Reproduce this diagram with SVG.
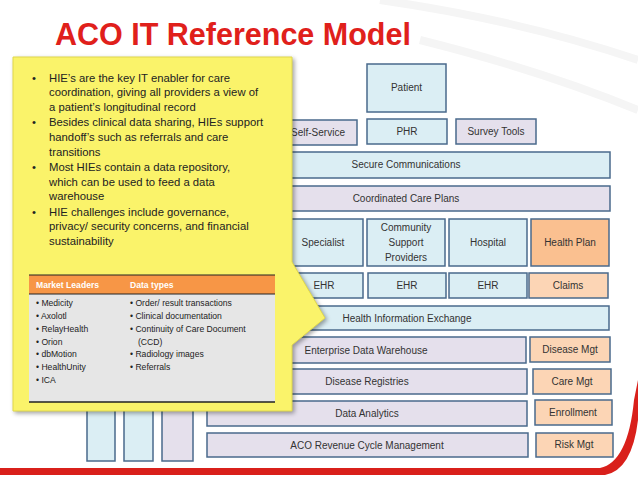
<svg xmlns="http://www.w3.org/2000/svg" width="638" height="479" viewBox="0 0 638 479">
<style>
.b{stroke:#4A6A8C;stroke-width:1.5}
.lb{fill:#DBEEF4}.lv{fill:#E5E0EC}.or{fill:#FAC090}.pe{fill:#FCD5B5}
.t{font-family:"Liberation Sans",Arial,sans-serif;font-size:10px;fill:#333;text-anchor:middle}
.c{font-family:"Liberation Sans",Arial,sans-serif;font-size:11.3px;fill:#222}
.s{font-family:"Liberation Sans",Arial,sans-serif;font-size:8.6px;fill:#222}
.h{font-family:"Liberation Sans",Arial,sans-serif;font-size:8.6px;fill:#fff;font-weight:bold}
</style>
<rect width="638" height="479" fill="#fff"/>
<path d="M380 0 Q520 20 638 60 M420 40 Q540 70 638 110" stroke="#F5F5F5" stroke-width="8" fill="none"/>
<text x="55" y="45" font-family="Liberation Sans,Arial,sans-serif" font-size="30.5" font-weight="bold" fill="#E0201B">ACO IT Reference Model</text>
<path d="M0 468 L600 468 Q628 462 634 400 L638 380 L638 420 Q632 470 605 475 L0 475 Z" fill="#D9201B"/>
<g id="columns">
<rect class="b lb" x="87" y="220" width="28" height="241"/>
<rect class="b lb" x="124" y="220" width="29" height="241"/>
<rect class="b lv" x="162" y="220" width="31" height="241"/>
</g>
<g id="patient"><rect class="b lb" x="367" y="64" width="79" height="48"/><text class="t" x="406.5" y="91">Patient</text></g>
<g id="selfservice"><rect class="b lv" x="207" y="120" width="150" height="25"/><text class="t" x="318" y="136">Self-Service</text></g>
<g id="phr"><rect class="b lb" x="367" y="119" width="80" height="25"/><text class="t" x="407" y="135">PHR</text></g>
<g id="survey"><rect class="b lv" x="456" y="119" width="80" height="25"/><text class="t" x="496" y="135">Survey Tools</text></g>
<g id="securecomm"><rect class="b lb" x="207" y="152" width="403" height="26"/><text class="t" x="406" y="168">Secure Communications</text></g>
<g id="careplans"><rect class="b lv" x="207" y="186" width="403" height="25"/><text class="t" x="406" y="202">Coordinated Care Plans</text></g>
<g id="specialist"><rect class="b lb" x="207" y="219" width="156" height="47"/><text class="t" x="323" y="246">Specialist</text></g>
<g id="community"><rect class="b lb" x="367" y="219" width="78" height="47"/><text class="t" x="406" y="231">Community</text><text class="t" x="406" y="246">Support</text><text class="t" x="406" y="261">Providers</text></g>
<g id="hospital"><rect class="b lb" x="449" y="219" width="78" height="47"/><text class="t" x="488" y="246">Hospital</text></g>
<g id="healthplan"><rect class="b or" x="531" y="219" width="78" height="47"/><text class="t" x="570" y="246">Health Plan</text></g>
<g id="ehr1"><rect class="b lb" x="207" y="273" width="156" height="25"/><text class="t" x="324" y="289">EHR</text></g>
<g id="ehr2"><rect class="b lb" x="368" y="273" width="78" height="25"/><text class="t" x="407" y="289">EHR</text></g>
<g id="ehr3"><rect class="b lb" x="449" y="273" width="78" height="25"/><text class="t" x="488" y="289">EHR</text></g>
<g id="claims"><rect class="b pe" x="529" y="273" width="79" height="25"/><text class="t" x="568" y="289">Claims</text></g>
<g id="hie"><rect class="b lb" x="207" y="306" width="402" height="24"/><text class="t" x="407" y="322">Health Information Exchange</text></g>
<g id="edw"><rect class="b lv" x="207" y="337" width="319" height="26"/><text class="t" x="366" y="354">Enterprise Data Warehouse</text></g>
<g id="diseasemgt"><rect class="b pe" x="530" y="337" width="80" height="25"/><text class="t" x="570" y="353">Disease Mgt</text></g>
<g id="registries"><rect class="b lv" x="207" y="369" width="320" height="25"/><text class="t" x="367" y="385">Disease Registries</text></g>
<g id="caremgt"><rect class="b pe" x="533" y="369" width="78" height="25"/><text class="t" x="572" y="385">Care Mgt</text></g>
<g id="analytics"><rect class="b lv" x="207" y="401" width="320" height="25"/><text class="t" x="367" y="417">Data Analytics</text></g>
<g id="enrollment"><rect class="b pe" x="535" y="400" width="77" height="25"/><text class="t" x="573" y="416">Enrollment</text></g>
<g id="revenue"><rect class="b lv" x="207" y="433" width="321" height="24"/><text class="t" x="367" y="449">ACO Revenue Cycle Management</text></g>
<g id="riskmgt"><rect class="b pe" x="536" y="433" width="77" height="24"/><text class="t" x="574" y="448">Risk Mgt</text></g>
<g id="connectors"></g>
<g id="callout">
<path d="M13 57 H292 V262 L325 318 L292 345 V411 H13 Z" fill="#FAF36A" stroke="#E0D84A" stroke-width="1" style="filter:drop-shadow(2px 2px 2px rgba(0,0,0,0.35))"/>
<g class="c">
<text x="32" y="82">•</text><text x="49" y="82">HIE’s are the key IT enabler for care</text>
<text x="49" y="96">coordination, giving all providers a view of</text>
<text x="49" y="111">a patient’s longitudinal record</text>
<text x="32" y="126">•</text><text x="49" y="126">Besides clinical data sharing, HIEs support</text>
<text x="49" y="141">handoff’s such as referrals and care</text>
<text x="49" y="156">transitions</text>
<text x="32" y="171">•</text><text x="49" y="171">Most HIEs contain a data repository,</text>
<text x="49" y="186">which can be used to feed a data</text>
<text x="49" y="200">warehouse</text>
<text x="32" y="216">•</text><text x="49" y="216">HIE challenges include governance,</text>
<text x="49" y="230">privacy/ security concerns, and financial</text>
<text x="49" y="245">sustainability</text>
</g>
<rect x="29" y="275" width="246" height="19" fill="#F79646"/>
<rect x="29" y="294" width="246" height="108" fill="#E6E6E6"/>
<line x1="29" y1="294" x2="275" y2="294" stroke="#222" stroke-width="1"/>
<line x1="29" y1="402" x2="275" y2="402" stroke="#222" stroke-width="1.5"/>
<line x1="29" y1="275" x2="275" y2="275" stroke="#222" stroke-width="1"/>
<text class="h" x="36" y="288">Market Leaders</text><text class="h" x="130" y="288">Data types</text>
<g class="s">
<text x="36" y="306">• Medicity</text><text x="36" y="319">• Axolotl</text><text x="36" y="332">• RelayHealth</text><text x="36" y="345">• Orion</text><text x="36" y="357">• dbMotion</text><text x="36" y="370">• HealthUnity</text><text x="36" y="383">• ICA</text>
<text x="130" y="306">• Order/ result transactions</text><text x="130" y="319">• Clinical documentation</text><text x="130" y="332">• Continuity of Care Document</text><text x="138" y="345">(CCD)</text><text x="130" y="357">• Radiology images</text><text x="130" y="370">• Referrals</text>
</g>
</g>
</svg>
